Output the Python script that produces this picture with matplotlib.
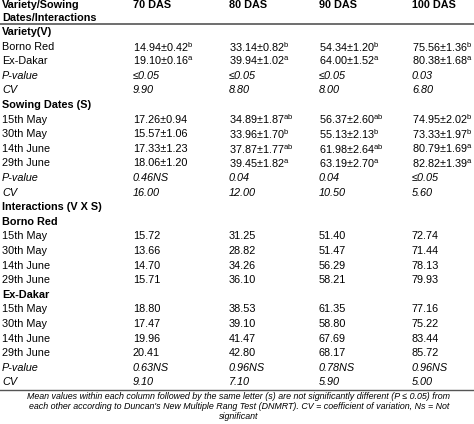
import matplotlib
matplotlib.use('Agg')
import matplotlib.pyplot as plt

plt.rcParams['font.family'] = ['Liberation Sans', 'DejaVu Sans']
plt.rcParams['mathtext.fontset'] = 'custom'
plt.rcParams['mathtext.rm'] = 'Liberation Sans'
plt.rcParams['mathtext.it'] = 'Liberation Sans:italic'

# ── Data ──────────────────────────────────────────────────────────────────────
columns = ['70 DAS', '80 DAS', '90 DAS', '100 DAS']

# (label, kind, values) kind: 'h' = bold heading, 'n' = normal, 'i' = italic
rows = [
    ('Variety(V)', 'h', None),
    ('Borno Red', 'n', ['14.94±0.42^b', '33.14±0.82^b', '54.34±1.20^b', '75.56±1.36^b']),
    ('Ex-Dakar', 'n', ['19.10±0.16^a', '39.94±1.02^a', '64.00±1.52^a', '80.38±1.68^a']),
    ('P-value', 'i', ['≤0.05', '≤0.05', '≤0.05', '0.03']),
    ('CV', 'i', ['9.90', '8.80', '8.00', '6.80']),
    ('Sowing Dates (S)', 'h', None),
    ('15th May', 'n', ['17.26±0.94', '34.89±1.87^ab', '56.37±2.60^ab', '74.95±2.02^b']),
    ('30th May', 'n', ['15.57±1.06', '33.96±1.70^b', '55.13±2.13^b', '73.33±1.97^b']),
    ('14th June', 'n', ['17.33±1.23', '37.87±1.77^ab', '61.98±2.64^ab', '80.79±1.69^a']),
    ('29th June', 'n', ['18.06±1.20', '39.45±1.82^a', '63.19±2.70^a', '82.82±1.39^a']),
    ('P-value', 'i', ['0.46NS', '0.04', '0.04', '≤0.05']),
    ('CV', 'i', ['16.00', '12.00', '10.50', '5.60']),
    ('Interactions (V X S)', 'h', None),
    ('Borno Red', 'h', None),
    ('15th May', 'n', ['15.72', '31.25', '51.40', '72.74']),
    ('30th May', 'n', ['13.66', '28.82', '51.47', '71.44']),
    ('14th June', 'n', ['14.70', '34.26', '56.29', '78.13']),
    ('29th June', 'n', ['15.71', '36.10', '58.21', '79.93']),
    ('Ex-Dakar', 'h', None),
    ('15th May', 'n', ['18.80', '38.53', '61.35', '77.16']),
    ('30th May', 'n', ['17.47', '39.10', '58.80', '75.22']),
    ('14th June', 'n', ['19.96', '41.47', '67.69', '83.44']),
    ('29th June', 'n', ['20.41', '42.80', '68.17', '85.72']),
    ('P-value', 'i', ['0.63NS', '0.96NS', '0.78NS', '0.96NS']),
    ('CV', 'i', ['9.10', '7.10', '5.90', '5.00']),
]

footnote = ("Mean values within each column followed by the same letter (s) are not significantly different (P ≤ 0.05) from\n"
            "each other according to Duncan's New Multiple Rang Test (DNMRT). CV = coefficient of variation, Ns = Not\n"
            "significant")

# ── Layout (pixel coords, origin top-left) ───────────────────────────────────
W, H = 474, 424
col_x = [133, 229, 319, 412]
fs = 7.8

fig = plt.figure(figsize=(W / 100, H / 100), dpi=100)
ax = fig.add_axes([0, 0, 1, 1])
ax.set_xlim(0, W)
ax.set_ylim(H, 0)
ax.axis('off')

ax.text(2, 5, 'Variety/Sowing', fontsize=fs, fontweight='bold', va='center')
ax.text(2, 18, 'Dates/Interactions', fontsize=fs, fontweight='bold', va='center')
for x, c in zip(col_x, columns):
    ax.text(x, 5, c, fontsize=fs, fontweight='bold', va='center')
ax.plot([0, W], [24, 24], color='#555555', lw=1.2)

def fmt(v):
    if '^' in v:
        base, sup = v.split('^')
        return base + r'$^{\mathrm{' + sup + '}}$'
    return v

y0, dy = 32, 14.6
for i, (label, kind, vals) in enumerate(rows):
    y = y0 + i * dy
    style = 'italic' if kind == 'i' else 'normal'
    weight = 'bold' if kind == 'h' else 'normal'
    ax.text(2, y, label, fontsize=fs, fontstyle=style, fontweight=weight, va='center')
    if vals:
        for x, v in zip(col_x, vals):
            ax.text(x, y, fmt(v), fontsize=fs, fontstyle=style, va='center')

yl = y0 + len(rows) * dy - 7
ax.plot([0, W], [yl, yl], color='#555555', lw=1.0)
ax.text(W / 2 + 2, yl + 2, footnote, fontsize=6.4, fontstyle='italic', ha='center', va='top',
        linespacing=1.15)

fig.savefig('out.png', dpi=100, facecolor='white')
